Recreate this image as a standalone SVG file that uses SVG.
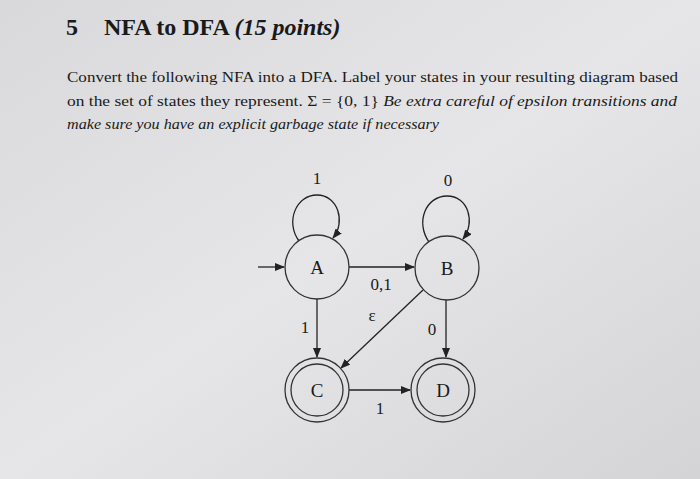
<svg xmlns="http://www.w3.org/2000/svg" width="700" height="479" viewBox="0 0 700 479">
<defs>
<linearGradient id="bg" x1="0" y1="0" x2="1" y2="1"><stop offset="0" stop-color="#d9d9db"/><stop offset="0.5" stop-color="#e6e6e8"/><stop offset="1" stop-color="#d4d4d6"/></linearGradient>
<marker id="ah" markerWidth="10" markerHeight="8" refX="9" refY="4" orient="auto" markerUnits="userSpaceOnUse"><path d="M0,0 L10,4 L0,8 z" fill="#222"/></marker>
</defs>
<style>
.t{font-family:"Liberation Serif",serif;fill:#1a1a1a}
.st{fill:none;stroke:#333;stroke-width:1.3}
.e{fill:none;stroke:#222;stroke-width:1.3;marker-end:url(#ah)}
.lb{font-family:"Liberation Serif",serif;font-size:17px;fill:#1a1a1a;text-anchor:middle}
.nl{font-family:"Liberation Serif",serif;font-size:19px;fill:#1a1a1a;text-anchor:middle}
</style>
<rect width="700" height="479" fill="url(#bg)"/>
<text class="t" x="66" y="35" font-size="24" font-weight="bold">5<tspan x="104">NFA to DFA </tspan><tspan font-style="italic">(15 points)</tspan></text>
<text class="t" x="67" y="82" font-size="15.5" textLength="611" lengthAdjust="spacingAndGlyphs">Convert the following NFA into a DFA. Label your states in your resulting diagram based</text>
<text class="t" x="67" y="106" font-size="15.5" textLength="610" lengthAdjust="spacingAndGlyphs">on the set of states they represent. Σ = {0, 1} <tspan font-style="italic">Be extra careful of epsilon transitions and</tspan></text>
<text class="t" x="67" y="129" font-size="15.5" font-style="italic" textLength="372" lengthAdjust="spacingAndGlyphs">make sure you have an explicit garbage state if necessary</text>
<g id="connectors">
<path class="e" d="M258,267 L284,267"/>
<path class="e" d="M299,241 C285,222 296,195 317,195 C338,195 346,222 333,238"/>
<path class="e" d="M429,242 C415,222 426,196 447,196 C468,196 476,222 463,239"/>
<path class="e" d="M349,267 L414,267"/>
<path class="e" d="M317,299 L317,357"/>
<path class="e" d="M423,290 L341,368"/>
<path class="e" d="M446,300 L446,357"/>
<path class="e" d="M349,390 L410,390"/>
</g>
<g id="labels">
<text class="lb" x="317" y="184">1</text>
<text class="lb" x="448" y="186">0</text>
<text class="lb" x="381" y="290">0,1</text>
<text class="lb" x="372" y="321">ε</text>
<text class="lb" x="305" y="333">1</text>
<text class="lb" x="432" y="335">0</text>
<text class="lb" x="380" y="414">1</text>
</g>
<g id="A"><circle class="st" cx="317" cy="267" r="32"/><text class="nl" x="317" y="274">A</text></g>
<g id="B"><circle class="st" cx="447" cy="268" r="32"/><text class="nl" x="447" y="275">B</text></g>
<g id="C"><circle class="st" cx="317" cy="390" r="32"/><circle class="st" cx="317" cy="390" r="26"/><text class="nl" x="317" y="397">C</text></g>
<g id="D"><circle class="st" cx="443" cy="390" r="32"/><circle class="st" cx="443" cy="390" r="26"/><text class="nl" x="443" y="397">D</text></g>
</svg>
